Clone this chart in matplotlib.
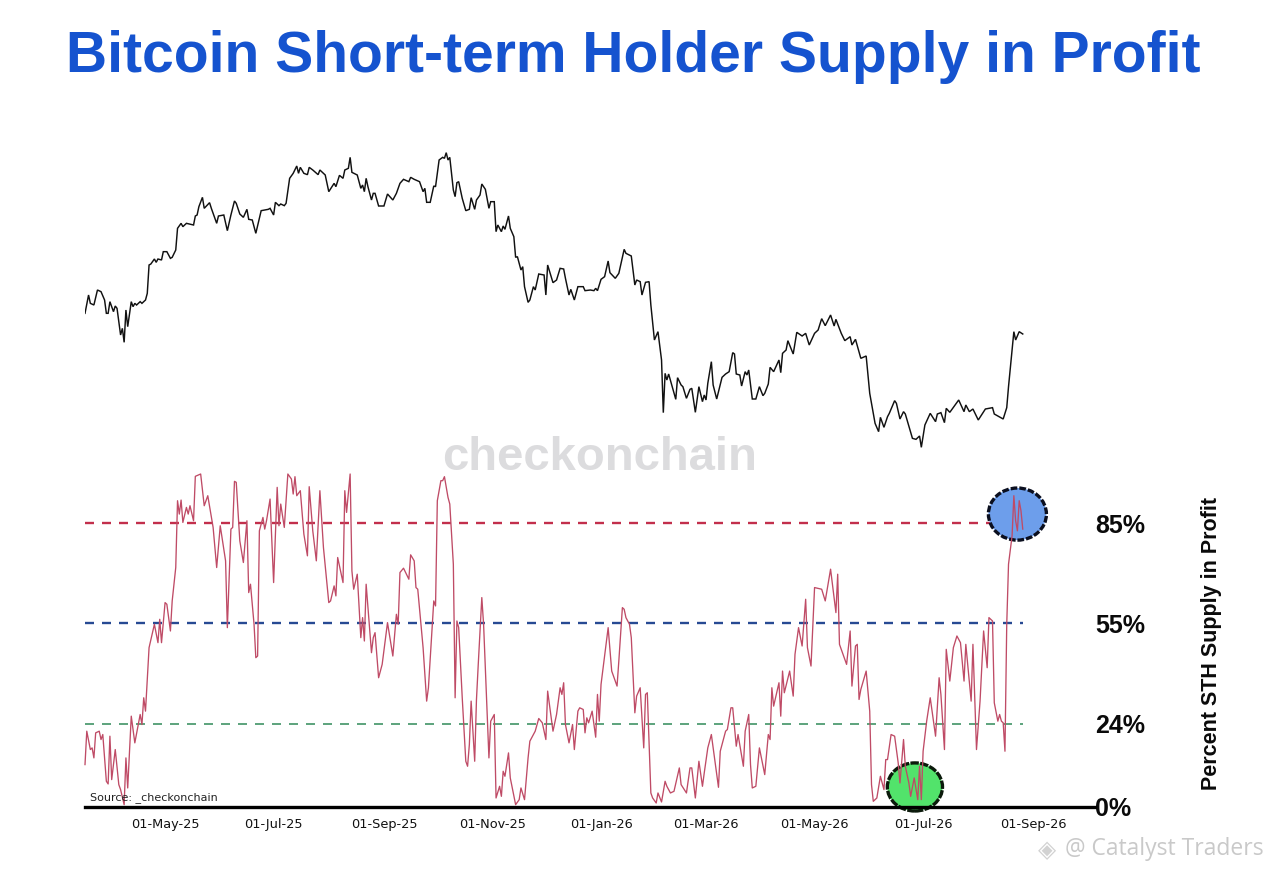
import pandas as pd
import matplotlib
matplotlib.use("Agg")
import matplotlib.pyplot as plt
from matplotlib.patches import Ellipse

START = pd.Timestamp("2025-03-17")

price_days = [0,2,3,5,7,9,11,12,13,14,16,17,18,20,21,22,23,24,26,27,28,29,31,32,34,35,36,37,39,40,41,43,44,46,48,49,51,52,54,55,57,61,62,63,64,66,67,70,71,74,75,78,80,82,84,85,87,89,91,92,94,96,98,99,103,104,106,107,109,110,112,113,115,117,119,120,121,123,125,126,128,131,132,135,137,140,141,143,145,146,148,149,150,153,155,156,157,158,159,161,162,163,165,168,170,173,175,177,179,182,183,185,188,190,191,192,194,196,197,199,201,202,203,204,205,207,208,209,210,212,214,216,217,219,220,222,223,225,227,228,230,231,232,234,235,236,238,239,241,242,243,245,246,247,249,250,252,253,255,258,259,260,263,265,267,
 269,270,272,273,275,277,280,281,284,286,287,288,290,292,294,295,298,300,303,304,307,309,310,312,313,315,317,318,320,322,324,325,326,327,328,332,333,335,336,338,340,341,343,345,347,348,349,350,352,353,355,358,360,362,364,365,366,368,369,371,372,373,375,377,379,381,382,384,385,387,390,391,392,394,395,398,400,403,405,407,410,412,414,416,419,421,422,425,427,430,431,433,436,439,441,444,446,447,449,451,452,455,456,458,460,461,465,467,469,470,472,475,478,479,481,483,484,486,491,494,495,497,499,502,506,510,511,516,518,519,522,523,525,527]
price_index = [48,53.5,51,50.5,55,54.5,52,48,48,51.5,48.5,50.2,49.5,41.5,43.5,39.3,49,44,51.5,50,51,50.5,51.5,51,52,54,62.5,62.8,64.3,63.3,64.3,64,66.5,66.5,64.5,64.8,67,73.5,75,74,75,74.5,77.2,77.5,80,82.8,79.5,81.2,79.5,75,77.2,77.5,72.8,77.5,81.7,81,77.8,76.8,79.2,76.2,76,72,76.5,78.8,79.2,79.5,77.5,81.3,80.3,80.8,80.3,81,88.5,90,92.2,90,91.8,90,89.6,91.8,91,89.6,91,89.5,84.5,87,86,89.4,88.5,91,91.5,94.8,90.3,89.5,85.5,86.5,84.5,88.5,86,82,84,84,80.2,80.2,83.8,82,84,87,88.2,87.5,88.8,88.2,87.5,84.5,85.5,81.3,81.3,86.2,86,94,94.8,94.5,96.2,94,94.8,85,83,87.2,87.5,82.5,78.8,79.2,82.7,79.2,82,83.5,86.8,85.2,79.5,81.5,81.5,72.5,74.5,72.5,74.2,73.2,77.2,73.5,71,64.8,65,61,62,56,51.3,52,56,55,59.8,59.5,53.5,62.5,57.2,58,61.5,
 61.3,58.5,53.5,55.2,52,56,56,54.8,55,54.8,55.5,54.8,58.2,59,63.7,60.2,58.5,60,67.2,66,65.2,56.5,58,57.5,53.5,57.3,57.5,50.5,40,42.5,34,18.2,30,28,29.8,22.2,28.7,26.5,26,22.5,25.2,25.5,18.3,26,21.5,23.5,22,27,33.5,26.5,22.3,28.8,29.8,30.5,36.2,35.8,29.8,29.5,26.2,30.5,29.5,31,22.3,22.3,26,23.3,24,26.8,31.8,30.5,34,30.2,36,37,39.8,35.8,42.3,41.2,42,38.5,42,43,46.4,44.3,47.5,44.2,46.2,42,39.8,41,38.5,40.2,34.5,35.2,24,15,12.5,16.8,13.8,17,18,21.8,21,16.3,18.5,17.8,10.5,10.2,11.2,7.8,14.5,18,15.5,17.8,18.2,15.2,19.5,18.3,22,18.5,20.5,18.5,19.3,16,19.3,19.7,17.8,16.3,19.7,26,42.5,40,42.5,41.8]

sth_days = [0,1,3,4,5,6,8,9,10,12,13,14,15,17,19,20,22,23,24,26,28,31,32,33,34,36,39,41,42,43,45,46,48,49,51,52,53,54,55,57,58,59,61,62,65,67,69,72,74,76,79,80,82,83,84,85,87,89,91,92,93,95,96,97,98,100,101,102,104,106,108,109,110,112,114,116,117,118,119,121,123,125,126,128,130,132,134,137,138,140,141,142,145,146,147,149,150,151,153,155,156,157,158,161,162,163,165,167,170,173,175,176,177,179,182,183,185,186,187,190,192,193,196,197,198,200,201,202,204,205,207,208,209,210,212,214,215,216,217,219,220,221,
 223,224,227,228,230,231,233,234,235,236,238,239,242,244,245,247,249,250,253,255,257,259,260,263,265,267,268,269,270,272,274,275,277,278,280,281,282,283,285,287,288,289,290,294,296,299,300,302,303,304,306,307,309,310,312,314,315,316,318,319,321,322,324,326,327,329,331,334,335,338,340,341,343,345,347,348,350,352,356,357,360,361,363,364,366,367,370,371,373,374,375,377,379,382,384,385,386,387,390,391,392,393,396,398,399,401,403,405,406,408,410,414,416,419,422,423,424,
 427,428,430,431,433,434,435,436,439,441,442,443,445,447,449,450,451,453,455,457,458,460,461,463,464,466,468,469,470,471,473,475,478,480,481,483,484,486,488,490,492,494,495,498,499,501,503,505,507,508,510,511,513,514,515,516,517,518,519,521,522,523,524,525,526,527]
sth_values = [12.7,22.7,17.2,17.7,14.7,22.2,22.7,20.2,21.7,7.7,6.9,21.2,8.2,17.2,6.7,5.2,0.7,14.7,5.7,27.2,19.2,27.7,24.7,32.7,28.7,47.7,54.7,49.2,56.2,49.2,61.2,60.7,52.7,61.7,71.7,91.7,87.7,91.9,85.2,89.7,87.7,90.2,85.7,99,99.7,90.2,93.2,83.7,71.7,84.2,73.7,53.7,83.2,83.7,97.5,97.2,79.7,73.2,85.7,64.2,66.7,54.7,44.7,45.2,82.7,86.7,83.2,85.7,92.2,67.2,95.7,84.2,90.7,83.7,99.7,98.2,93.7,98.9,93.2,94.7,81.7,75.2,95.9,82.7,73.7,94.7,77.7,61.2,61.7,66.2,63.2,74.7,67.2,94.7,88.2,99.7,70.7,65.2,69.7,50.7,56.7,49.7,66.7,46.2,50.7,52.2,38.7,42.7,55.2,45.2,57.7,54.7,70.2,71.5,68.2,75.5,73.7,65.7,65.2,47.7,31.7,35.7,61.7,60.2,91.7,97.7,97.7,98.9,92.7,90.7,72.7,32.7,55.7,53.7,32.7,13.7,12.2,18.7,31.7,13.7,32.2,42.7,
 62.7,54.7,14.7,25.7,27.7,2.7,6.2,3.2,10.7,9.2,16.2,8.7,0.7,2.2,5.7,2.2,14.7,19.7,22.7,26.5,25.2,20.2,34.7,22.7,27.7,35.7,33.7,37.2,24.7,19.2,24.7,17.2,28.7,29.7,29.2,22.2,26.7,25.2,28.7,20.9,33.7,25.7,36.7,53.7,40.7,36.2,43.7,59.7,59.2,56.7,54.7,50.7,28.2,33.2,35.7,17.7,33.7,34.2,4.2,2.7,1.2,4.2,1.5,7.7,6.2,4.2,4.7,11.7,6.7,4.2,11.7,11.7,2.7,13.7,6.2,10.2,17.7,21.7,5.9,16.7,22.7,23.2,29.7,29.7,18.2,21.7,12.2,22.7,27.7,12.7,5.7,6.2,17.7,9.7,21.7,20.2,35.7,30.2,37.2,27.2,40.7,34.2,40.7,33.2,45.7,53.7,48.2,62.2,47.7,42.2,65.7,65.2,61.7,71.2,58.2,69.7,48.7,
 44.2,42.7,52.7,36.2,48.2,48.7,32.2,35.2,40.7,28.7,6.7,1.7,2.7,9.2,5.2,14.2,14.2,21.7,21.2,13.2,7.2,20.2,12.2,7.2,3.2,8.7,2.2,12.2,2.2,16.7,25.7,32.7,21.2,38.7,33.7,17.2,47.2,37.7,47.7,51.2,49.2,37.7,48.7,31.7,48.7,17.2,31.7,52.7,41.7,56.7,55.7,31.2,25.7,27.7,25.7,25.2,16.7,54.7,72.7,81.2,93.2,85.7,82.7,91.7,88.7,83.2]

threshold_levels = [85, 55, 25]
threshold_colors = ["#c22f4c", "#274a93", "#4f9c72"]
threshold_widths = [1.7, 1.7, 1.3]
threshold_end_day = 527
y_tick_values = [0, 25, 55, 85]
y_tick_labels = ["0%", "24%", "55%", "85%"]
x_tick_dates = ["2025-05-01","2025-07-01","2025-09-01","2025-11-01","2026-01-01","2026-03-01","2026-05-01","2026-07-01","2026-09-01"]
x_tick_labels = ["01-May-25","01-Jul-25","01-Sep-25","01-Nov-25","01-Jan-26","01-Mar-26","01-May-26","01-Jul-26","01-Sep-26"]

def to_dates(days):
    return START + pd.to_timedelta(days, unit="D")

W, H = 1280, 873
fig = plt.figure(figsize=(W/100, H/100), dpi=100, facecolor="white")
L, R = 85/W, 1095/W
xlim = (START, START + pd.Timedelta(days=567.6))

ax_p = fig.add_axes([L, 1-460/H, R-L, 320/H])
ax_p.plot(to_dates(price_days), price_index, color="#111111", lw=1.05, solid_joinstyle="miter")
ax_p.set_xlim(*xlim)
ax_p.set_ylim(4, 100)
ax_p.axis("off")

ax = fig.add_axes([L, 1-807/H, R-L, 337/H], sharex=None)
ax.patch.set_alpha(0)
ax.set_xlim(*xlim)
ax.set_ylim(0, 337/3.34)
for lev, c, w in zip(threshold_levels, threshold_colors, threshold_widths):
    ax.plot([START, START + pd.Timedelta(days=threshold_end_day)], [lev, lev], color=c, lw=w,
            dashes=(9/w*0.72, 8/w*0.72), zorder=2)

ax.add_patch(Ellipse((START + pd.Timedelta(days=524), 87.7), 32.6, 15.6,
             facecolor="#6d9eeb", edgecolor="#0b0f1f", lw=2.4, ls=(0, (2, 0.6)), zorder=3, clip_on=False))
ax.add_patch(Ellipse((START + pd.Timedelta(days=466.4), 6.0), 31, 14.4,
             facecolor="#52e36b", edgecolor="#0b1a0b", lw=2.4, ls=(0, (2.5, 0.4)), zorder=3, clip_on=False))

ax.plot(to_dates(sth_days), sth_values, color="#bf4b66", lw=0.95, zorder=4, clip_on=False)

for s in ("top", "left", "right"):
    ax.spines[s].set_visible(False)
ax.spines["bottom"].set_linewidth(2.4)
ax.spines["bottom"].set_color("black")
ax.spines["bottom"].set_zorder(5)

ax.set_xticks(pd.to_datetime(x_tick_dates))
ax.set_xticklabels(x_tick_labels, fontsize=9.3, family="DejaVu Sans", color="#111111")
ax.tick_params(axis="x", length=0, pad=8)
ax.yaxis.tick_right()
ax.set_yticks(y_tick_values)
ax.set_yticklabels(y_tick_labels, fontsize=18, fontweight="bold", family="Liberation Sans", color="#0a0a0a")
ax.tick_params(axis="y", length=0, pad=0)

fig.text(633/W, 1-57/H, "Bitcoin Short-term Holder Supply in Profit", ha="center", va="center",
         fontsize=41, fontweight="bold", family="Liberation Sans", color="#1553cf")
fig.text(600/W, 1-458/H, "checkonchain", ha="center", va="center", fontsize=34, fontweight="bold",
         family="Liberation Sans", color="#dcdcde", zorder=0)
fig.text(90/W, 1-798/H, "Source: _checkonchain", ha="left", va="center", fontsize=8,
         family="DejaVu Sans", color="#222222")
fig.text(1212/W, 1-644/H, "Percent STH Supply in Profit", ha="center", va="center", rotation=90,
         fontsize=15.5, fontweight="bold", family="Liberation Sans", color="#0a0a0a")
fig.text(1065/W, 1-849/H, "@ Catalyst Traders", ha="left", va="center", fontsize=16.5,
         family="Open Sans", color="#c9c9c9")
fig.text(1047/W, 1-850/H, "\u25c8", ha="center", va="center", fontsize=17,
         family="DejaVu Sans", color="#d2d2d2")

fig.savefig("out.png", dpi=100)
